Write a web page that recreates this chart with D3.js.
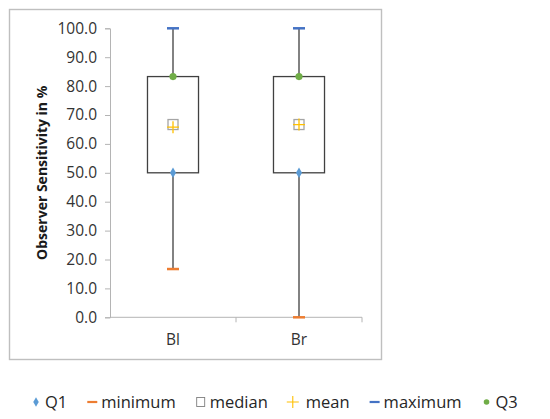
<!DOCTYPE html>
<html>
<head>
<meta charset="utf-8">
<script src="https://cdn.jsdelivr.net/npm/d3@7"></script>
<style>
  body { margin: 0; background: #fff; }
  svg { display: block; font-family: 'Open Sans', sans-serif; }
</style>
</head>
<body>
<svg width="550" height="419"></svg>
<script>
// box plot values per category
const categories = ['Bl', 'Br'];
const minimum = [16.7, 0];
const q1 = [50, 50];
const median = [66.7, 66.7];
const mean = [65.8, 66.7];
const q3 = [83.3, 83.3];
const maximum = [100, 100];
const yTicks = [0, 10, 20, 30, 40, 50, 60, 70, 80, 90, 100];

const legendNames = ['Q1', 'minimum', 'median', 'mean', 'maximum', 'Q3'];
const colors = {
  Q1: '#5b9bd5', minimum: '#ed7d31', median: '#a5a5a5',
  mean: '#ffc000', maximum: '#4472c4', Q3: '#70ad47'
};

const svg = d3.select('svg');
const margin = { top: 28.3, left: 110, right: 188, bottom: 101.7 };
const width = 550 - margin.left - margin.right,
      height = 419 - margin.top - margin.bottom;

// chart frame
svg.append('rect')
    .attr('x', 9.5).attr('y', 9.5)
    .attr('width', 372).attr('height', 350)
    .attr('fill', '#fff')
    .attr('stroke', '#bfbfbf')
    .attr('stroke-width', 1.4);

const g = svg.append('g')
    .attr('transform', 'translate(' + margin.left + ',' + margin.top + ')');

const x = d3.scaleBand().domain(categories).range([0, width]);
const y = d3.scaleLinear().domain([0, 100]).range([height, 0]);

// y axis
const yAxis = g.append('g')
    .call(d3.axisLeft(y).tickValues(yTicks).tickFormat(d3.format('.1f')).tickSize(5).tickPadding(8));
yAxis.selectAll('line, path').attr('stroke', '#b4b4b4');
yAxis.selectAll('text').attr('font-size', 15.5).attr('fill', '#333')
    .attr('font-family', "'Open Sans', sans-serif");

// x axis: ticks at band edges, labels at centers
const xAxis = g.append('g')
    .attr('transform', 'translate(0,' + height + ')');
xAxis.append('line')
    .attr('x1', 0).attr('x2', width)
    .attr('stroke', '#b4b4b4');
xAxis.selectAll('.edge')
    .data(categories)
  .enter().append('line')
    .attr('class', 'edge')
    .attr('x1', (d) => x(d) + x.step()).attr('x2', (d) => x(d) + x.step())
    .attr('y1', 0).attr('y2', 5)
    .attr('stroke', '#b4b4b4');
xAxis.selectAll('.lbl')
    .data(categories)
  .enter().append('text')
    .attr('class', 'lbl')
    .attr('x', (d) => x(d) + x.bandwidth() / 2)
    .attr('y', 28)
    .attr('text-anchor', 'middle')
    .attr('font-size', 15.5)
    .attr('fill', '#333')
    .text((d) => d);

// axis title
svg.append('text')
    .attr('transform', 'translate(47,' + (margin.top + height / 2) + ') rotate(-90)')
    .attr('text-anchor', 'middle')
    .attr('font-size', 14)
    .attr('font-weight', 'bold')
    .attr('fill', '#1a1a1a')
    .text('Observer Sensitivity in %');

const boxW = x.bandwidth() * 0.405;
const cx = (i) => x(categories[i]) + x.bandwidth() / 2;

categories.forEach((c, i) => {
  const xc = cx(i);
  // whiskers
  g.append('line')
      .attr('x1', xc).attr('x2', xc)
      .attr('y1', y(maximum[i])).attr('y2', y(q3[i]))
      .attr('stroke', '#595959').attr('stroke-width', 1.5);
  g.append('line')
      .attr('x1', xc).attr('x2', xc)
      .attr('y1', y(q1[i])).attr('y2', y(minimum[i]))
      .attr('stroke', '#595959').attr('stroke-width', 1.5);
  // box
  g.append('rect')
      .attr('x', xc - boxW / 2).attr('y', y(q3[i]))
      .attr('width', boxW).attr('height', y(q1[i]) - y(q3[i]))
      .attr('fill', 'none')
      .attr('stroke', '#404040').attr('stroke-width', 1.3);
  // min / max dashes
  g.append('line')
      .attr('x1', xc - 6).attr('x2', xc + 6)
      .attr('y1', y(maximum[i])).attr('y2', y(maximum[i]))
      .attr('stroke', colors.maximum).attr('stroke-width', 2.5);
  g.append('line')
      .attr('x1', xc - 6).attr('x2', xc + 6)
      .attr('y1', y(minimum[i])).attr('y2', y(minimum[i]))
      .attr('stroke', colors.minimum).attr('stroke-width', 2.5);
  // median square
  g.append('rect')
      .attr('x', xc - 5).attr('y', y(median[i]) - 5)
      .attr('width', 10).attr('height', 10)
      .attr('fill', 'none')
      .attr('stroke', colors.median).attr('stroke-width', 1.3);
  // mean plus
  g.append('path')
      .attr('d', 'M' + (xc - 6) + ',' + y(mean[i]) + 'H' + (xc + 6) +
                 'M' + xc + ',' + (y(mean[i]) - 6) + 'V' + (y(mean[i]) + 6))
      .attr('stroke', colors.mean).attr('stroke-width', 1.3);
  // Q1 diamond
  g.append('path')
      .attr('transform', 'translate(' + xc + ',' + y(q1[i]) + ')')
      .attr('d', d3.symbol(d3.symbolDiamond, 32)())
      .attr('fill', colors.Q1);
  // Q3 dot
  g.append('circle')
      .attr('cx', xc).attr('cy', y(q3[i])).attr('r', 3.6)
      .attr('fill', colors.Q3);
});

// legend
const leg = svg.append('g').attr('transform', 'translate(0,402)');
let lx = 36;
legendNames.forEach((name) => {
  const it = leg.append('g').attr('transform', 'translate(' + lx + ',0)');
  const col = colors[name];
  if (name === 'Q1') {
    it.append('path').attr('d', d3.symbol(d3.symbolDiamond, 26)()).attr('fill', col);
  } else if (name === 'minimum' || name === 'maximum') {
    it.append('line').attr('x1', -5).attr('x2', 5).attr('stroke', col).attr('stroke-width', 2.2);
  } else if (name === 'median') {
    it.append('rect').attr('x', -4).attr('y', -4.5).attr('width', 8).attr('height', 9)
        .attr('fill', 'none').attr('stroke', '#7f7f7f').attr('stroke-width', 0.9);
  } else if (name === 'mean') {
    it.append('path').attr('d', 'M-6,0H6M0,-6V6').attr('stroke', col).attr('stroke-width', 1.1);
  } else {
    it.append('circle').attr('r', 2.8).attr('fill', col);
  }
  const t = it.append('text')
      .attr('x', name === 'mean' ? 13 : 9)
      .attr('y', 6)
      .attr('font-size', 16.5)
      .attr('fill', '#262626')
      .text(name);
  lx += (name === 'mean' ? 13 : 9) + t.node().getComputedTextLength() + 25;
});
</script>
</body>
</html>
